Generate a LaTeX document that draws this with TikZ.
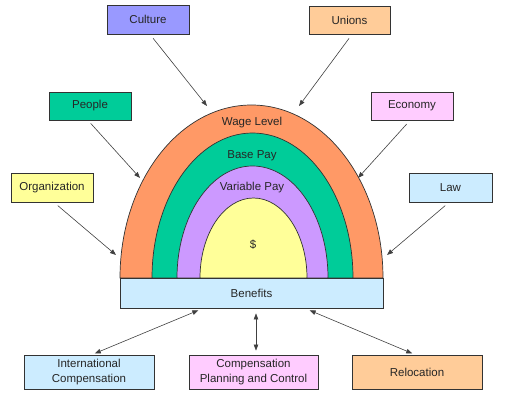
\documentclass[tikz,border=0pt]{standalone}
\usepackage{fontspec}
\setmainfont{Liberation Sans}
\usetikzlibrary{arrows.meta}
\definecolor{cBlue}{HTML}{9999FF}
\definecolor{cPeach}{HTML}{FFCC99}
\definecolor{cGreen}{HTML}{00CC99}
\definecolor{cPink}{HTML}{FFCCFF}
\definecolor{cYellow}{HTML}{FFFF99}
\definecolor{cLight}{HTML}{CCECFF}
\definecolor{cOrange}{HTML}{FF9966}
\definecolor{cPurple}{HTML}{CC99FF}
\definecolor{cLine}{HTML}{333333}
\tikzset{
  box/.style={draw=cLine, line width=0.8pt, inner sep=0pt, align=center,
    font=\fontsize{11.5}{15}\selectfont, text=black!85},
  arch/.style={draw=cLine, line width=0.7pt},
  lbl/.style={font=\fontsize{11.5}{14}\selectfont, text=black!85},
  arr/.style={draw=black!75, line width=0.6pt, -{Triangle[length=6pt,width=4.5pt]}},
  darr/.style={draw=black!75, line width=0.6pt, {Triangle[length=6pt,width=4.5pt]}-{Triangle[length=6pt,width=4.5pt]}}
}
\begin{document}
\begin{tikzpicture}[x=1pt,y=1pt]
\useasboundingbox (0,0) rectangle (506,402);
% arches
\path[arch, fill=cOrange] (120,124) arc[start angle=180, end angle=0, x radius=131.5, y radius=173] -- cycle;
\path[arch, fill=cGreen] (152,124) arc[start angle=180, end angle=0, x radius=100.5, y radius=145] -- cycle;
\path[arch, fill=cPurple] (177,124) arc[start angle=180, end angle=0, x radius=75.5, y radius=112] -- cycle;
\path[arch, fill=cYellow] (200,124) arc[start angle=180, end angle=0, x radius=53.5, y radius=80] -- cycle;
\node[lbl] (wage) at (252,279) {Wage Level};
\node[lbl] (base) at (252,246) {Base Pay};
\node[lbl] (var) at (252,214) {Variable Pay};
\node[lbl] (dollar) at (253,157) {\$};
% boxes
\node[box, fill=cLight, minimum width=263pt, minimum height=30pt] (benefits) at (251.5,109) {Benefits};
\node[box, fill=cBlue, minimum width=82pt, minimum height=29pt] (culture) at (148,382.5) {Culture};
\node[box, fill=cPeach, minimum width=81pt, minimum height=28pt] (unions) at (349.5,382) {Unions};
\node[box, fill=cGreen, minimum width=82pt, minimum height=28pt] (people) at (90,296) {People};
\node[box, fill=cPink, minimum width=82pt, minimum height=28pt] (economy) at (412,296) {Economy};
\node[box, fill=cYellow, minimum width=82pt, minimum height=29pt] (org) at (52,214.5) {Organization};
\node[box, fill=cLight, minimum width=83pt, minimum height=29pt] (law) at (450.5,214.5) {Law};
\node[box, fill=cLight, minimum width=130pt, minimum height=34pt] (intl) at (89,30) {International\\Compensation};
\node[box, fill=cPink, minimum width=129pt, minimum height=34pt] (plan) at (253.5,30) {Compensation\\Planning and Control};
\node[box, fill=cPeach, minimum width=130pt, minimum height=34pt] (reloc) at (417,30) {Relocation};
% arrow targets on the arch
\coordinate (tCulture) at (207,296);
\coordinate (tUnions) at (299,296);
\coordinate (tPeople) at (140,224);
\coordinate (tEconomy) at (358,224);
\coordinate (tOrg) at (116,147);
\coordinate (tLaw) at (387,147);
\draw[arr, shorten <=5pt] ([xshift=2pt]culture.south) -- (tCulture);
\draw[arr, shorten <=5pt] ([xshift=2.5pt]unions.south) -- (tUnions);
\draw[arr, shorten <=4pt] ([xshift=-2pt]people.south) -- (tPeople);
\draw[arr, shorten <=5pt] ([xshift=-2pt]economy.south) -- (tEconomy);
\draw[arr, shorten <=5pt] ([xshift=2pt]org.south) -- (tOrg);
\draw[arr, shorten <=5pt] ([xshift=-1.5pt]law.south) -- (tLaw);
% bottom double arrows
\draw[darr, shorten <=5pt, shorten >=3pt] ([xshift=-48.5pt]benefits.south) -- ([xshift=3pt]intl.north);
\draw[darr, shorten <=5pt, shorten >=4pt] ([xshift=4.5pt]benefits.south) -- ([xshift=2.5pt]plan.north);
\draw[darr, shorten <=5pt, shorten >=3pt] ([xshift=53.5pt]benefits.south) -- ([xshift=-2pt]reloc.north);
\end{tikzpicture}
\end{document}
